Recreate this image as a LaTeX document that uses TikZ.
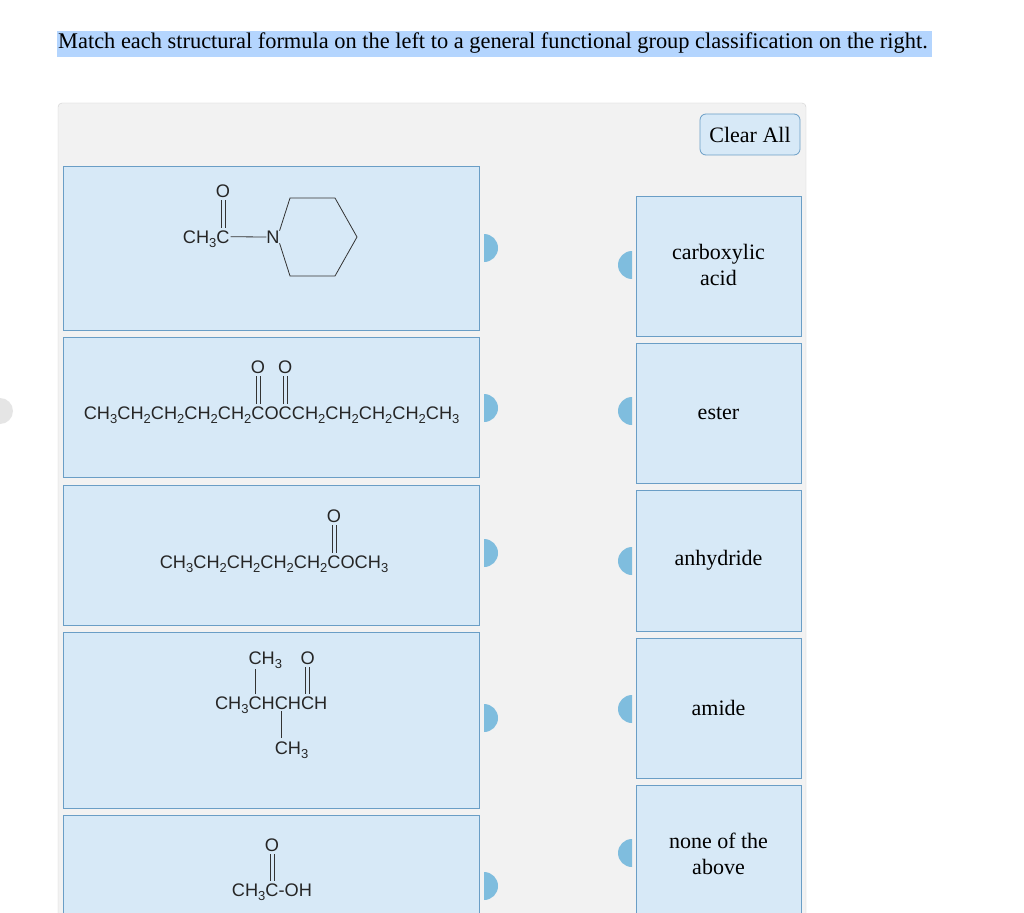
\documentclass[tikz,border=0pt]{standalone}
\usepackage{fontspec}
\setmainfont{Liberation Serif}
\newfontfamily\chemfont{Liberation Sans}
\usetikzlibrary{calc}
\definecolor{boxfill}{HTML}{D7E9F7}
\definecolor{boxline}{HTML}{6A9EC6}
\definecolor{dotblue}{HTML}{7FBDDE}
\definecolor{panelbg}{HTML}{F2F2F2}
\definecolor{hl}{HTML}{B4D5FE}
\newcommand\chsub[1]{\raisebox{-4pt}{\fontsize{13}{13}\selectfont#1}}
\tikzset{
  card/.style={draw=boxline,fill=boxfill,line width=1pt},
  chem/.style={font=\chemfont\fontsize{18.2}{19}\selectfont,inner sep=0pt,outer sep=0pt,text=black!85},
  lbl/.style={font=\fontsize{22}{26}\selectfont,align=center,text=black},
  bond/.style={line width=0.8pt,black!80},
  dot/.style={fill=dotblue}
}
\newcommand\dbl[2]{%
  \draw[bond] ($(#1.south)+(-2,3)$) -- ($(#2.north)+(-2,-2)$);
  \draw[bond] ($(#1.south)+(2,3)$) -- ($(#2.north)+(2,-2)$);}
\begin{document}
\begin{tikzpicture}[x=1pt,y=-1pt]
\useasboundingbox (0,0) rectangle (1024,912);
\clip (0,0) rectangle (1024,912);
\fill[white] (0,0) rectangle (1024,912);
% title
\fill[hl] (57,31) rectangle (932,57);
\node[lbl,anchor=west,inner sep=0,font=\fontsize{22.4}{24}\selectfont] (title) at (58,43) {Match each structural formula on the left to a general functional group classification on the right.};
% panel
\draw[black!18,fill=panelbg,rounded corners=4pt] (58,103) rectangle (806,940);
\fill[black!20,opacity=0.5] (0,398) arc(-90:90:13) -- cycle;
% clear all
\node[draw=boxline,fill=boxfill,rounded corners=6pt,line width=0.8pt,minimum width=100,minimum height=41,lbl] (clear) at (750,134.5) {Clear All};
% left cards
\draw[card] (63,167) rectangle (479,330);
\draw[card] (63,337) rectangle (479,477);
\draw[card] (63,485) rectangle (479,625);
\draw[card] (63,632) rectangle (479,808);
\draw[card] (63,815) rectangle (479,960);
% right cards
\draw[card] (636,196) rectangle (801,336);
\draw[card] (636,343) rectangle (801,483);
\draw[card] (636,490) rectangle (801,631);
\draw[card] (636,638) rectangle (801,778);
\draw[card] (636,785) rectangle (801,960);
\node[lbl] (r1) at (718.5,265) {carboxylic\\acid};
\node[lbl] (r2) at (718.5,413) {ester};
\node[lbl] (r3) at (718.5,560) {anhydride};
\node[lbl] (r4) at (718.5,708) {amide};
\node[lbl] (r5) at (718.5,854) {none of the\\above};
% dots
\foreach \y in {248,408,553,718,886}{\fill[dot] (484,\y-14) arc(-90:90:14) -- cycle;}
\foreach \y in {265,411,561,709,853}{\fill[dot] (632,\y-14) arc(-90:-270:14) -- cycle;}
% ---- structure 1
\node[chem,anchor=base] (c1) at (223,243) {C};
\node[chem,anchor=base east] (c1l) at (c1.base west) {CH\chsub{3}};
\node[chem,anchor=base] (o1) at (223,197) {O};
\dbl{o1}{c1}
\coordinate (n1) at (273,237);
\node[chem,anchor=center] (nn) at (n1) {N};
\draw[bond] (c1.east) ++(1,0) -- (nn.west);
\draw[bond] (nn.north east) -- (290,198) -- (335,198) -- (357,237) -- (335,276) -- (290,276) -- (nn.south east);
% ---- structure 2
\node[chem,anchor=base] (c2a) at (258,419) {C};
\node[chem,anchor=base east] (s2l) at (c2a.base west) {CH\chsub{3}CH\chsub{2}CH\chsub{2}CH\chsub{2}CH\chsub{2}};
\node[chem,anchor=base west] (s2o) at (c2a.base east) {O};
\node[chem,anchor=base west] (c2b) at (s2o.base east) {C};
\node[chem,anchor=base west] (s2r) at (c2b.base east) {CH\chsub{2}CH\chsub{2}CH\chsub{2}CH\chsub{2}CH\chsub{3}};
\node[chem,anchor=base] (o2a) at ($(c2a.base)+(0,-46)$) {O};
\node[chem,anchor=base] (o2b) at ($(c2b.base)+(0,-46)$) {O};
\dbl{o2a}{c2a}\dbl{o2b}{c2b}
% ---- structure 3
\node[chem,anchor=base] (c3) at (334,568) {C};
\node[chem,anchor=base east] (s3l) at (c3.base west) {CH\chsub{3}CH\chsub{2}CH\chsub{2}CH\chsub{2}CH\chsub{2}};
\node[chem,anchor=base west] (s3r) at (c3.base east) {OCH\chsub{3}};
\node[chem,anchor=base] (o3) at ($(c3.base)+(0,-46)$) {O};
\dbl{o3}{c3}
% ---- structure 4
\node[chem,anchor=base west] (s4a) at (215,709) {CH\chsub{3}};
\node[chem,anchor=base west] (c4a) at (s4a.base east) {C};
\node[chem,anchor=base west] (s4b) at (c4a.base east) {H};
\node[chem,anchor=base west] (c4b) at (s4b.base east) {C};
\node[chem,anchor=base west] (s4c) at (c4b.base east) {H};
\node[chem,anchor=base west] (c4c) at (s4c.base east) {C};
\node[chem,anchor=base west] (s4d) at (c4c.base east) {H};
\node[chem,anchor=base west] (m4a) at ($(c4a.base west)+(0,-45)$) {CH\chsub{3}};
\node[chem,anchor=base] (o4) at ($(c4c.base)+(0,-45)$) {O};
\node[chem,anchor=base west] (m4b) at ($(c4b.base west)+(0,45)$) {CH\chsub{3}};
\draw[bond] ($(c4a.north)+(0,-2)$) -- ($(c4a.north |- m4a.base)+(0,5)$);
\draw[bond] ($(c4b.base)+(0,2)$) -- ($(c4b.base |- m4b.north)+(0,-3)$);
\dbl{o4}{c4c}
% ---- structure 5
\node[chem,anchor=base] (c5) at (272,896) {C};
\node[chem,anchor=base east] (s5l) at (c5.base west) {CH\chsub{3}};
\node[chem,anchor=base west] (s5r) at (c5.base east) {-OH};
\node[chem,anchor=base] (o5) at ($(c5.base)+(0,-45)$) {O};
\dbl{o5}{c5}
\end{tikzpicture}
\end{document}
